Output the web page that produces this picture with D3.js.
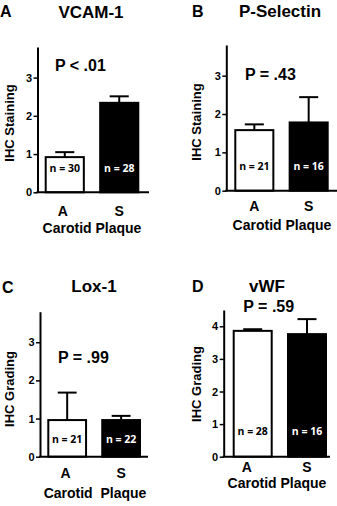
<!DOCTYPE html>
<html>
<head>
<meta charset="utf-8">
<script src="https://cdn.jsdelivr.net/npm/d3@7"></script>
<style>
  html, body { margin: 0; padding: 0; background: #fff; }
  svg { display: block; }
  svg text { font-family: "Liberation Sans", Arial, sans-serif; font-weight: 700; fill: #000; }
</style>
</head>
<body>
<svg id="chart" width="337" height="506"></svg>
<script>
// ---- data ----
const panelLetters = ["A", "B", "C", "D"];
const titles = ["VCAM-1", "P-Selectin", "Lox-1", "vWF"];
const categories = ["A", "S"];
const means = [[0.92, 2.34], [1.58, 1.78], [0.96, 0.96], [3.86, 3.76]];
const errTops = [[1.05, 2.51], [1.73, 2.44], [1.68, 1.07], [3.91, 4.22]];
const nCounts = [[30, 28], [21, 16], [21, 22], [28, 16]];
const pLabels = ["P < .01", "P = .43", "P = .99", "P = .59"];
const yLabels = ["IHC Staining", "IHC Staining", "IHC Grading", "IHC Grading"];
const yTicks = [[0, 1, 2, 3], [0, 1, 2, 3], [0, 1, 2, 3], [0, 1, 2, 3, 4]];
const yMax = [3.8, 3.8, 3.8, 4.5];
const xTitles = ["Carotid Plaque", "Carotid Plaque", "Carotid  Plaque", "Carotid Plaque"];

// ---- layout (pixels) ----
const layouts = [
  { ax: 37.5, top: 47, bot: 192.3, right: 149, bars: [45.7, 138.3],
    letter: [0, 17], title: [91, 18], p: [55, 70.7, "start"], n: 171.5, cat: 215.5, catDx: [-2, 0],
    xt: [92, 232.5], yl: [13.5, 123] },
  { ax: 226.3, top: 45, bot: 190.7, right: 337, bars: [235.3, 327.7],
    letter: [192, 17], title: [280, 17], p: [245, 80, "start"], n: 170, cat: 210.5, catDx: [0, 0],
    xt: [282, 229.5], yl: [200.5, 122] },
  { ax: 40, top: 311.7, bot: 456.7, right: 148, bars: [48.3, 140],
    letter: [2, 293], title: [94, 292], p: [58, 363.3, "start"], n: 443, cat: 478.3, catDx: [-1.5, 0],
    xt: [95, 498], yl: [13.5, 389] },
  { ax: 223.7, top: 310, bot: 456.7, right: 330, bars: [233.7, 326],
    letter: [192, 292], title: [267, 292], p: [268.7, 311.7, "middle"], n: 435, cat: 472, catDx: [-6, 0],
    xt: [277, 488], yl: [200.5, 384] }
];

const BOLD = "'Liberation Sans', Arial, sans-serif";
const svg = d3.select("#chart");
svg.append("rect").attr("width", 337).attr("height", 506).attr("fill", "#fff");

function label(g, x, y, txt, size, anchor) {
  return g.append("text").attr("x", x).attr("y", y)
    .attr("text-anchor", anchor || "start")
    .style("font-family", BOLD).style("font-weight", "700").style("font-size", size + "px")
    .attr("fill", "#000").text(txt);
}

layouts.forEach((L, i) => {
  const g = svg.append("g");
  const y = d3.scaleLinear().domain([0, yMax[i]]).range([L.bot, L.top]);
  const x = d3.scaleBand().domain(categories).range(L.bars).paddingInner(0.3).paddingOuter(0);
  const bw = x.bandwidth();

  // panel letter and title
  label(g, L.letter[0], L.letter[1], panelLetters[i], 16);
  label(g, L.title[0], L.title[1], titles[i], 17, "middle");

  const rows = categories.map((c, j) => ({ c, m: means[i][j], e: errTops[i][j], n: nCounts[i][j], j }));

  // error bars (drawn first, bars cover the lower part)
  rows.forEach(d => {
    const cx = x(d.c) + bw / 2;
    g.append("line").attr("x1", cx).attr("x2", cx).attr("y1", y(d.m)).attr("y2", y(d.e))
      .attr("stroke", "#000").attr("stroke-width", 2);
    g.append("line").attr("x1", cx - bw * 0.25).attr("x2", cx + bw * 0.25)
      .attr("y1", y(d.e)).attr("y2", y(d.e))
      .attr("stroke", "#000").attr("stroke-width", 2);
  });

  // bars
  g.selectAll("rect.bar").data(rows).join("rect").attr("class", "bar")
    .attr("x", d => x(d.c)).attr("width", bw)
    .attr("y", d => y(d.m)).attr("height", d => y(0) - y(d.m))
    .attr("fill", d => d.j === 0 ? "#fff" : "#000")
    .attr("stroke", "#000").attr("stroke-width", 2);

  // n labels
  g.selectAll("text.n").data(rows).join("text").attr("class", "n")
    .attr("x", d => x(d.c) + bw / 2).attr("y", L.n)
    .attr("text-anchor", "middle")
    .style("font-family", "'Open Sans', sans-serif").style("font-weight", "700").style("font-size", "10.5px")
    .style("fill", d => d.j === 0 ? "#000" : "#fff")
    .text(d => "n = " + d.n);

  // y axis
  const yAxis = d3.axisLeft(y).tickValues(yTicks[i]).tickSize(4).tickSizeOuter(0).tickPadding(1.5)
    .tickFormat(d3.format("d"));
  const ya = g.append("g").attr("transform", `translate(${L.ax},0)`).call(yAxis);
  ya.select(".domain").attr("stroke", "#000").attr("stroke-width", 2);
  ya.selectAll(".tick line").attr("stroke", "#000").attr("stroke-width", 1.5);
  ya.selectAll(".tick text").style("font-family", BOLD)
    .style("font-weight", "700").style("font-size", "11px").attr("fill", "#000");

  // x axis baseline
  g.append("line").attr("x1", L.ax - 1).attr("x2", L.right)
    .attr("y1", y(0)).attr("y2", y(0)).attr("stroke", "#000").attr("stroke-width", 2);

  // category labels
  categories.forEach((c, j) => {
    label(g, x(c) + bw / 2 + L.catDx[j], L.cat, c, 14, "middle");
  });

  // x title
  label(g, L.xt[0], L.xt[1], xTitles[i], 14, "middle")
    .style("white-space", "pre").attr("xml:space", "preserve");

  // y label
  g.append("text").attr("transform", `translate(${L.yl[0]},${L.yl[1]}) rotate(-90)`)
    .attr("text-anchor", "middle")
    .style("font-family", BOLD).style("font-weight", "700").style("font-size", "13px")
    .attr("fill", "#000").text(yLabels[i]);

  // p value
  label(g, L.p[0], L.p[1], pLabels[i], 16, L.p[2]);
});
</script>
</body>
</html>
